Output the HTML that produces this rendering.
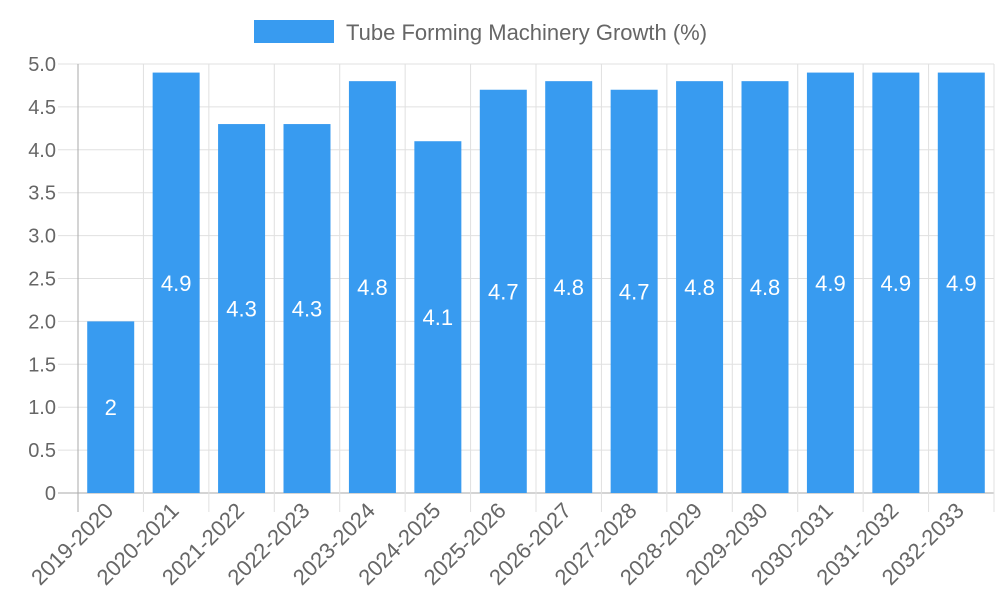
<!DOCTYPE html>
<html><head><meta charset="utf-8"><style>
body{margin:0;background:#fff;}
svg{display:block;font-family:"Liberation Sans",sans-serif;}
</style></head><body>
<svg id="chart" width="1000" height="600">
<rect x="254" y="20" width="80" height="23" fill="#389bf0"/>
<text x="346" y="40" font-size="22" fill="#666">Tube Forming Machinery Growth (%)</text>
<g id="grid"></g><g id="bars"></g><g id="labels"></g>
</svg>
<script>
const categories=["2019-2020","2020-2021","2021-2022","2022-2023","2023-2024","2024-2025","2025-2026","2026-2027","2027-2028","2028-2029","2029-2030","2030-2031","2031-2032","2032-2033"];
const values=[2,4.9,4.3,4.3,4.8,4.1,4.7,4.8,4.7,4.8,4.8,4.9,4.9,4.9];
const yTicks=[0,0.5,1,1.5,2,2.5,3,3.5,4,4.5,5];
const yTickLabels=["0","0.5","1.0","1.5","2.0","2.5","3.0","3.5","4.0","4.5","5.0"];
const NS="http://www.w3.org/2000/svg";
const L=78,R=994,T=64,B=493;
const bw=(R-L)/categories.length;
const y=v=>B-(v/5)*(B-T);
const x=i=>L+bw*i;
function mk(tag,attrs,parent,txt){const e=document.createElementNS(NS,tag);for(const k in attrs)e.setAttribute(k,attrs[k]);if(txt!==undefined)e.textContent=txt;parent.appendChild(e);return e;}
const g=document.getElementById('grid'),gb=document.getElementById('bars'),gl=document.getElementById('labels');
yTicks.forEach((t,i)=>{
 const ln=mk('line',{x1:58,x2:R,y1:y(t),y2:y(t),stroke:i===0?'#aaa':'#e0e0e0','stroke-width':1},g);
 
 
 const tx=mk('text',{x:56,y:y(t)+7,'text-anchor':'end','font-size':20,fill:'#666'},g,yTickLabels[i]);
 
 
});
for(let i=0;i<=categories.length;i++){
 const ln=mk('line',{x1:x(i),x2:x(i),y1:T,y2:512,stroke:i===0?'#aaa':'#e0e0e0','stroke-width':1},g);
 
 
}
categories.forEach((c,i)=>{
 const cx=x(i)+bw/2;
 const r=mk('rect',{x:cx-23.5,y:y(values[i]),width:47,height:B-y(values[i]),fill:'#389bf0'},gb);
 
 
 const v=mk('text',{x:cx,y:(y(values[i])+B)/2+8,'text-anchor':'middle','font-size':22,fill:'#fff'},gl,String(values[i]));
 
 
 const xl=mk('text',{x:cx+4,y:512,'text-anchor':'end','font-size':22,fill:'#666',transform:`rotate(-45 ${cx+4} 512)`},gl,c);
 
 
});
</script>
</body></html>
